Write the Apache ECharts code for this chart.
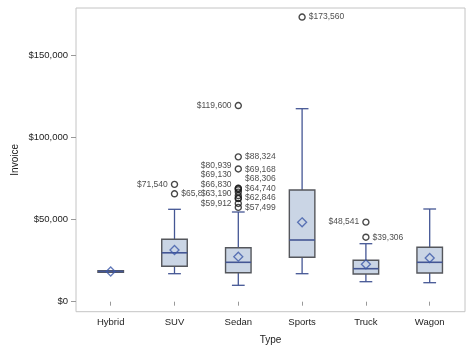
<!DOCTYPE html>
<html>
<head>
<meta charset="utf-8">
<script src="https://cdn.jsdelivr.net/npm/echarts@6/dist/echarts.min.js"></script>
<style>
html,body{margin:0;padding:0;background:#fff;}
#chart{width:474px;height:355px;}
</style>
</head>
<body>
<div id="chart"></div>
<script>
// ---- data ----
const categories = ['Hybrid', 'SUV', 'Sedan', 'Sports', 'Truck', 'Wagon'];
const whiskerLow  = [17911, 17073, 10000, 17073, 12195, 11585];
const quartile1   = [17911, 21585, 17683, 27073, 16890, 17500];
const medians     = [18451, 29817, 24025, 37622, 20122, 24025];
const quartile3   = [18926, 38049, 32927, 68110, 25244, 33171];
const whiskerHigh = [18926, 56342, 54695, 117684, 35366, 56525];
const means       = [18429, 31525, 27439, 48415, 22805, 26646];

const outlierCategory = ['SUV', 'SUV',
  'Sedan', 'Sedan', 'Sedan', 'Sedan', 'Sedan', 'Sedan', 'Sedan', 'Sedan', 'Sedan', 'Sedan', 'Sedan', 'Sedan',
  'Sports', 'Truck', 'Truck'];
const outlierValue = [71540, 65807,
  119600, 88324, 80939, 69168, 69130, 68306, 66830, 64740, 63190, 62846, 59912, 57499,
  173560, 48541, 39306];
const outlierLabelSide = ['left', 'right',
  'left', 'right', 'left', 'right', 'left', 'right', 'left', 'right', 'left', 'right', 'left', 'right',
  'right', 'left', 'right'];

const yTicks = [0, 50000, 100000, 150000];

// ---- layout constants ----
const FONT = 'Liberation Sans, Arial, sans-serif';
const plotTop = 55.7, plotH = 246;
const yMin = yTicks[0], yMax = yTicks[yTicks.length - 1];
const pxPerValue = plotH / (yMax - yMin);
const labelGapPx = 9.5;

function money(v) {
  return '$' + Math.round(v).toString().replace(/\B(?=(\d{3})+(?!\d))/g, ',');
}

// stack outlier labels upward per category and side so they don't overlap
const labelDy = new Array(outlierValue.length).fill(0);
(function () {
  const groups = {};
  outlierValue.forEach((v, i) => {
    const k = outlierCategory[i] + '|' + outlierLabelSide[i];
    (groups[k] = groups[k] || []).push(i);
  });
  const gapVal = labelGapPx / pxPerValue;
  Object.values(groups).forEach(idx => {
    idx.sort((a, b) => outlierValue[a] - outlierValue[b]);
    let prev = -Infinity;
    idx.forEach(i => {
      const lv = Math.max(outlierValue[i], prev + gapVal);
      labelDy[i] = -(lv - outlierValue[i]) * pxPerValue;
      prev = lv;
    });
  });
})();

const boxData = categories.map((c, i) => [i, whiskerLow[i], quartile1[i], medians[i], quartile3[i], whiskerHigh[i]]);
const meanData = means.map((m, i) => [i, m]);
const outlierData = outlierValue.map((v, i) => ({
  value: [categories.indexOf(outlierCategory[i]), v],
  label: {
    position: outlierLabelSide[i],
    offset: [0, labelDy[i]]
  }
}));

const boxFill = '#cad5e5', boxStroke = '#55575c', blueLine = '#445694';

const chart = echarts.init(document.getElementById('chart'), null, {renderer: 'canvas'});
chart.setOption({
  backgroundColor: '#fff',
  animation: false,
  textStyle: {fontFamily: FONT},
  grid: [
    {left: 76, top: 8, width: 389, height: 303.7, show: true, borderColor: '#c4c4c4', borderWidth: 1, backgroundColor: 'transparent'},
    {left: 78.8, top: plotTop, width: 382.8, height: plotH, show: false}
  ],
  xAxis: [
    {gridIndex: 0, type: 'value', min: 0, max: 1, axisLine: {show: false}, axisTick: {show: false}, axisLabel: {show: false}, splitLine: {show: false},
     name: 'Type', nameLocation: 'middle', nameGap: 24, nameTextStyle: {fontSize: 10, color: '#222', fontFamily: FONT}},
    {gridIndex: 1, type: 'category', data: categories, offset: 10, boundaryGap: true,
     axisLine: {show: false}, axisTick: {show: true, alignWithLabel: true, length: 4, lineStyle: {color: '#999'}},
     axisLabel: {fontSize: 9.5, color: '#222', margin: 6, fontFamily: FONT}, splitLine: {show: false}}
  ],
  yAxis: [
    {gridIndex: 0, type: 'value', min: 0, max: 1, axisLine: {show: false}, axisTick: {show: false}, axisLabel: {show: false}, splitLine: {show: false},
     name: 'Invoice', nameLocation: 'middle', nameGap: 56, nameTextStyle: {fontSize: 10, color: '#222', fontFamily: FONT}},
    {gridIndex: 1, type: 'value', min: yMin, max: yMax, interval: 50000, offset: 2.8,
     axisLine: {show: false}, axisTick: {show: true, length: 5, lineStyle: {color: '#999'}},
     axisLabel: {fontSize: 9.5, color: '#222', margin: 8, fontFamily: FONT, formatter: v => money(v)},
     splitLine: {show: false}}
  ],
  series: [
    {
      type: 'custom', xAxisIndex: 1, yAxisIndex: 1, clip: false,
      data: boxData,
      encode: {x: 0, y: [1, 2, 3, 4, 5]},
      renderItem: function (params, api) {
        const x = api.value(0);
        const lo = api.coord([x, api.value(1)]);
        const b1 = api.coord([x, api.value(2)]);
        const md = api.coord([x, api.value(3)]);
        const b3 = api.coord([x, api.value(4)]);
        const hi = api.coord([x, api.value(5)]);
        const bw = api.size([1, 0])[0] * 0.4;
        const cw = bw / 2;
        const cx = lo[0];
        const lineStyle = {stroke: blueLine, lineWidth: 1.3, fill: null};
        return {
          type: 'group',
          children: [
            {type: 'line', shape: {x1: cx, y1: lo[1], x2: cx, y2: b1[1]}, style: lineStyle},
            {type: 'line', shape: {x1: cx, y1: b3[1], x2: cx, y2: hi[1]}, style: lineStyle},
            {type: 'line', shape: {x1: cx - cw / 2, y1: lo[1], x2: cx + cw / 2, y2: lo[1]}, style: lineStyle},
            {type: 'line', shape: {x1: cx - cw / 2, y1: hi[1], x2: cx + cw / 2, y2: hi[1]}, style: lineStyle},
            {type: 'rect', shape: {x: cx - bw / 2, y: b3[1], width: bw, height: b1[1] - b3[1]},
             style: {fill: boxFill, stroke: boxStroke, lineWidth: 1.4}},
            {type: 'line', shape: {x1: cx - bw / 2, y1: md[1], x2: cx + bw / 2, y2: md[1]}, style: {stroke: blueLine, lineWidth: 1.6}}
          ]
        };
      }
    },
    {
      type: 'scatter', xAxisIndex: 1, yAxisIndex: 1, clip: false,
      data: meanData, symbol: 'diamond', symbolSize: 9,
      itemStyle: {color: 'rgba(0,0,0,0)', borderColor: '#3b57a8', borderWidth: 1.3}
    },
    {
      type: 'scatter', xAxisIndex: 1, yAxisIndex: 1, clip: false,
      data: outlierData, symbol: 'circle', symbolSize: 6,
      itemStyle: {color: 'rgba(0,0,0,0)', borderColor: '#1a1a1a', borderWidth: 1.4},
      label: {show: true, distance: 3, fontSize: 8.5, color: '#1a1a1a', fontFamily: FONT,
              backgroundColor: '#fff', padding: [0, 0],
              formatter: p => money(p.value[1])}
    }
  ]
});
</script>
</body>
</html>
